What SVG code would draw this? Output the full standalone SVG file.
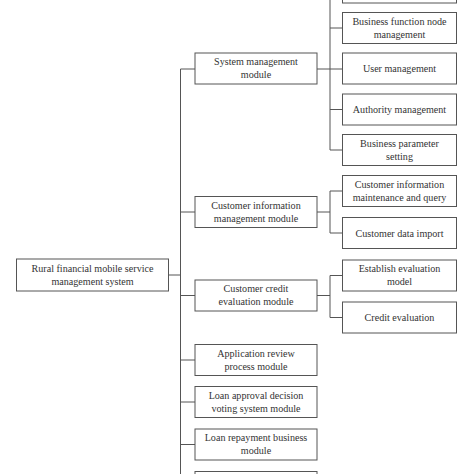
<svg xmlns="http://www.w3.org/2000/svg" width="474" height="474" viewBox="0 0 474 474">
<style>
rect{fill:#fff;stroke:#555;stroke-width:1}
text{font-family:"Liberation Serif","Times New Roman",serif;font-size:10.1px;fill:#333;text-anchor:middle}
#connectors path{fill:none;stroke:#555;stroke-width:1}
</style>
<rect x="0" y="0" width="474" height="474" style="stroke:none"/>
<g id="connectors">
<path d="M168.5 275H180.5M180.5 69V474M180.5 69H195M180.5 212H195M180.5 295.5H195M180.5 360H195M180.5 402H195M180.5 444.5H195"/>
<path d="M317 69H330M330 -13V150M330 -13H342.5M330 28H342.5M330 69H342.5M330 109.5H342.5M330 150H342.5"/>
<path d="M317 212H330M330 191V233M330 191H342.5M330 233H342.5"/>
<path d="M317 295.5H330M330 275.5V317.5M330 275.5H342.5M330 317.5H342.5"/>
</g>
<g id="root"><rect x="16.5" y="259" width="152" height="32"/><text x="92.5" y="272">Rural financial mobile service</text><text x="92.5" y="285">management system</text></g>
<g id="sysmod"><rect x="195" y="53" width="122" height="31"/><text x="256" y="65">System management</text><text x="256" y="78">module</text></g>
<g id="n0"><rect x="342.5" y="-28" width="114" height="31"/></g>
<g id="bfn"><rect x="342.5" y="12.5" width="114" height="31"/><text x="399.5" y="24.5">Business function node</text><text x="399.5" y="37.5">management</text></g>
<g id="user"><rect x="342.5" y="53" width="114" height="31"/><text x="399.5" y="72">User management</text></g>
<g id="auth"><rect x="342.5" y="94" width="114" height="31"/><text x="399.5" y="113">Authority management</text></g>
<g id="bps"><rect x="342.5" y="134.5" width="114" height="31"/><text x="399.5" y="146.5">Business parameter</text><text x="399.5" y="159.5">setting</text></g>
<g id="cimod"><rect x="195" y="196.5" width="122" height="31"/><text x="256" y="208.5">Customer information</text><text x="256" y="221.5">management module</text></g>
<g id="cimq"><rect x="342.5" y="175.5" width="114" height="31"/><text x="399.5" y="187.5">Customer information</text><text x="399.5" y="200.5">maintenance and query</text></g>
<g id="cdi"><rect x="342.5" y="217.5" width="114" height="31"/><text x="399.5" y="236.5">Customer data import</text></g>
<g id="ccmod"><rect x="195" y="280" width="122" height="31"/><text x="256" y="292">Customer credit</text><text x="256" y="305">evaluation module</text></g>
<g id="eem"><rect x="342.5" y="260" width="114" height="31"/><text x="399.5" y="272">Establish evaluation</text><text x="399.5" y="285">model</text></g>
<g id="ce"><rect x="342.5" y="302" width="114" height="31"/><text x="399.5" y="321">Credit evaluation</text></g>
<g id="arp"><rect x="195" y="344.5" width="122" height="31"/><text x="256" y="356.5">Application review</text><text x="256" y="369.5">process module</text></g>
<g id="lad"><rect x="195" y="386.5" width="122" height="31"/><text x="256" y="398.5">Loan approval decision</text><text x="256" y="411.5">voting system module</text></g>
<g id="lrb"><rect x="195" y="429" width="122" height="31"/><text x="256" y="441">Loan repayment business</text><text x="256" y="454">module</text></g>
<g id="last"><rect x="195" y="471.5" width="122" height="31"/></g>
</svg>
